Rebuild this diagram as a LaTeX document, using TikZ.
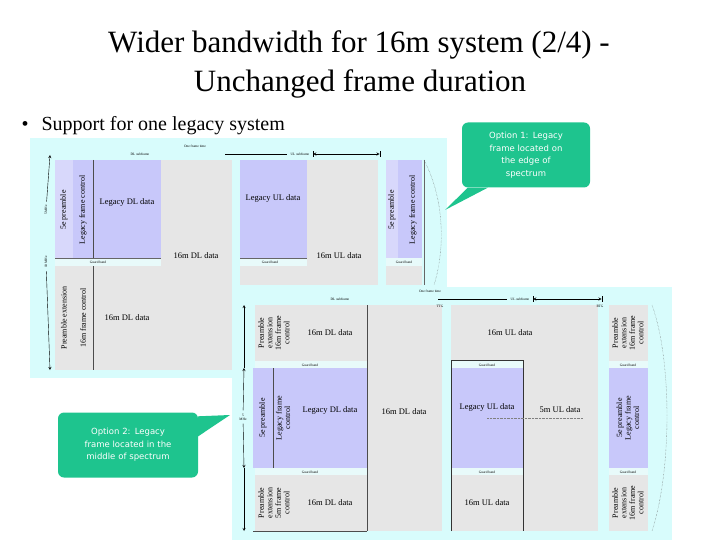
\documentclass[tikz,border=0pt]{standalone}
\usepackage{fontspec}
\setmainfont{Liberation Serif}
\newfontfamily\callfont{DejaVu Sans}
\definecolor{bgc}{HTML}{D8FCFC}
\definecolor{pur}{HTML}{C8C8FA}
\definecolor{gry}{HTML}{E6E6E6}
\definecolor{grn}{HTML}{1EC48E}
\definecolor{grd}{HTML}{E8FAFA}
\begin{document}
\begin{tikzpicture}[x=1pt,y=-1pt,
  lab/.style={font=\fontsize{8.5}{9}\selectfont},
  vlab/.style={font=\fontsize{8}{8.5}\selectfont,rotate=90,align=center},
  tiny/.style={font=\fontsize{3.5}{4}\selectfont},
  call/.style={fill=grn,text=white,rounded corners=6pt,align=center,font=\callfont\fontsize{8.5}{12.5}\selectfont,inner sep=2pt}]
\useasboundingbox (0,0) rectangle (720,540);
% title
\node (t1) at (359,45) {\fontsize{31}{32}\selectfont Wider bandwidth for 16m system (2/4) -};
\node (t2) at (360,84) {\fontsize{31}{32}\selectfont Unchanged frame duration};
\node[anchor=west] (b) at (18,126) {\fontsize{20}{21}\selectfont •\hspace{13pt}Support for one legacy system};
% ===== diagram 1 =====
\fill[bgc] (30,138) rectangle (447,378);
\fill[pur] (55,160) rectangle (161,258);
\fill[pur!70!white] (55,160) rectangle (73,258);
\fill[grd] (55,258) rectangle (161,266);
\fill[gry] (55,266) rectangle (161,370);
\fill[gry] (161,160) rectangle (232,370);
\draw[black!70] (93,160) -- (93,258) (93,266) -- (93,370);
\draw[black!60] (55,258) -- (161,258);
\fill[gry] (240,160) rectangle (378,285);
\fill[pur] (240,160) rectangle (307,258);
\fill[grd] (240,258) rectangle (307,266);
\draw[black!60] (240,258) -- (307,258);
\fill[pur] (386,160) rectangle (422,258);
\fill[pur!70!white] (386,160) rectangle (398,258);
\fill[grd] (386,258) rectangle (422,266);
\fill[gry] (386,266) rectangle (422,285);
\draw[black!60] (424,160) -- (424,285);
\draw[densely dotted,black!60] (424,160) .. controls (445,200) and (445,250) .. (434,285);
\node[vlab] (a1) at (64,210) {5e preamble};
\node[vlab] (a2) at (83,210) {Legacy frame control};
\node[lab] (a3) at (127,202) {Legacy DL data};
\node[lab] (a4) at (196,256) {16m DL data};
\node[vlab] (a5) at (64,318) {Preamble extension};
\node[vlab] (a6) at (83,318) {16m frame control};
\node[lab] (a7) at (127,318) {16m DL data};
\node[lab] (a8) at (273,198) {Legacy UL data};
\node[lab] (a9) at (339,256) {16m UL data};
\node[vlab] (a10) at (392,210) {5e preamble};
\node[vlab] (a11) at (413,210) {Legacy frame control};
\node[tiny] (g1) at (98,262) {Guard band};
\node[tiny] (g2) at (270,262) {Guard band};
\node[tiny] (g3) at (404,262) {Guard band};
\node[tiny] (h1) at (195,146) {One frame time};
\node[tiny] (h2) at (140,154) {DL subframe};
\node[tiny] (h3) at (300,154) {UL subframe};
\coordinate (u1) at (225,154); \coordinate (u2) at (380,154);
\draw[|<->|,>=stealth] (u1) -- (h3) (h3) -- (u2);
\node[tiny,rotate=90] (s1) at (46,210) {5 MHz};
\node[tiny,rotate=90] (s2) at (46,262) {10 MHz};
\coordinate (v1) at (50,155); \coordinate (v2) at (50,370);
\draw[-stealth] (s2) -- (v2); \draw[-stealth] (s1) -- (v1);
% ===== diagram 2 =====
\fill[bgc] (232,287) rectangle (672,540);
\fill[gry] (255,305) rectangle (367,361);
\fill[grd] (255,361) rectangle (367,368);
\fill[pur] (253,368) rectangle (367,468);
\fill[grd] (255,468) rectangle (367,475);
\fill[gry] (255,475) rectangle (367,531);
\fill[gry] (367,305) rectangle (442,531);
\draw[black!70] (273,368) -- (273,468) (367,305) -- (367,531) (253,531) -- (367,531);
\fill[gry] (451,305) rectangle (598,531);
\fill[grd] (451,361) rectangle (523,368);
\fill[pur] (451,368) rectangle (523,468);
\fill[grd] (451,468) rectangle (523,475);
\draw[black!80] (451,531) -- (451,360) -- (523,360) -- (523,531);
\draw[densely dotted,black!50] (487,418) -- (583,418);
\fill[gry] (609,305) rectangle (648,361);
\fill[grd] (609,361) rectangle (648,368);
\fill[pur] (609,368) rectangle (648,468);
\fill[grd] (609,468) rectangle (648,475);
\fill[gry] (609,475) rectangle (648,531);
\draw[densely dotted,black!60] (652,305) .. controls (672,360) and (672,470) .. (652,531);
\node[vlab] (b1) at (274,333) {Preamble\\extension\\16m frame\\control};
\node[lab] (b2) at (330,333) {16m DL data};
\node[vlab] (b3) at (263,418) {5e preamble};
\node[vlab] (b4) at (283,418) {Legacy frame\\control};
\node[lab] (b5) at (330,410) {Legacy DL data};
\node[lab] (b6) at (404,412) {16m DL data};
\node[vlab] (b7) at (274,503) {Preamble\\extension\\5m frame\\control};
\node[lab] (b8) at (330,503) {16m DL data};
\node[lab] (b9) at (510,333) {16m UL data};
\node[lab] (b10) at (487,407) {Legacy UL data};
\node[lab] (b11) at (560,410) {5m UL data};
\node[lab] (b12) at (487,503) {16m UL data};
\node[vlab] (b13) at (628,333) {Preamble\\extension\\16m frame\\control};
\node[vlab] (b14) at (628,418) {5e preamble\\Legacy frame\\control};
\node[vlab] (b15) at (628,503) {Preamble\\extension\\16m frame\\control};
\node[tiny] (g4) at (310,365) {Guard band};
\node[tiny] (g5) at (310,472) {Guard band};
\node[tiny] (g6) at (487,365) {Guard band};
\node[tiny] (g7) at (487,472) {Guard band};
\node[tiny] (g8) at (628,365) {Guard band};
\node[tiny] (g9) at (628,472) {Guard band};
\node[tiny] (k1) at (430,291) {One frame time};
\node[tiny] (k2) at (340,299) {DL subframe};
\node[tiny] (k3) at (520,299) {UL subframe};
\coordinate (w1) at (438,299); \coordinate (w2) at (602,299);
\draw[|<->|,>=stealth] (w1) -- (k3) (k3) -- (w2);
\node[tiny] (k4) at (440,306) {TTG};
\node[tiny] (k5) at (600,306) {RTG};
\node[tiny,align=center] (s3) at (243,417) {5\\MHz};
\coordinate (v3) at (244,368); \coordinate (v4) at (244,468);
\coordinate (v5) at (244,305); \coordinate (v6) at (244,531);
\draw[-stealth] (s3) -- (v3); \draw[-stealth] (s3) -- (v4);
\draw[-stealth] (v4) -- (v6);
\draw[-stealth] (v3) -- (v5);
% callouts
\node[call,text width=124pt,minimum height=65pt] (c1) at (526,155) {Option 1: Legacy\\frame located on\\the edge of\\spectrum};
\coordinate (tip1) at (445,210);
\fill[grn] ([xshift=6pt]c1.south west) -- (tip1) -- ([xshift=26pt]c1.south west) -- cycle;
\node[call,text width=136pt,minimum height=65pt] (c2) at (128,445) {Option 2: Legacy\\frame located in the\\middle of spectrum};
\coordinate (tip2) at (230,415);
\fill[grn] ([yshift=-4pt]c2.north east) -- (tip2) -- ([yshift=-24pt]c2.north east) -- cycle;
\end{tikzpicture}
\end{document}
